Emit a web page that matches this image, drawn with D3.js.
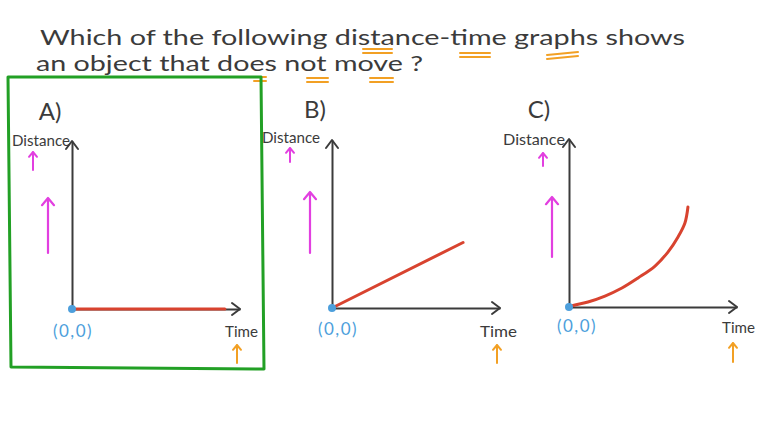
<!DOCTYPE html>
<html><head><meta charset="utf-8">
<script src="https://cdn.jsdelivr.net/npm/d3@7"></script>
<style>body{margin:0;background:#fff}svg{display:block}</style>
</head><body><svg id="c" width="760" height="427"></svg>
<script>
// ---- data ----
const titleLines = ["Which of the following distance-time graphs shows", "an object that does not move ?"];
const panelLabels = ["A)", "B)", "C)"];
const yAxisLabel = "Distance";
const xAxisLabel = "Time";
const originLabel = "(0,0)";
const xDomain = [0, 10];
const yDomain = [0, 10];
const seriesA = [[0, 0], [9.1, 0]];
const seriesB = [[0, 0], [7.8, 3.9]];
const seriesC = [[0, 0], [0.36, 0.12], [1.13, 0.3], [2.14, 0.65], [3.15, 1.13], [4.11, 1.73], [5.12, 2.44], [5.89, 3.27], [6.49, 4.17], [6.9, 5.0], [7.08, 5.95]];
const allSeries = [seriesA, seriesB, seriesC];

// ---- layout / style ----
const INK = "#3b3b3b", RED = "#d8432f", BLUE = "#4d9fdc", PINK = "#e23fe0", ORANGE = "#f2a024", GREEN = "#22a025";
const FONT = "Lato, 'Open Sans', sans-serif";
const layout = [
  {ox: 72, oy: 309, len: 168, lab: [50, 110], dist: [12, 146, 58], pinkS: [33, 152, 170], pinkL: [48, 198, 253], orig: [73, 330], time: [225, 337, 33], orange: [237, 345, 363]},
  {ox: 332, oy: 308, len: 168, lab: [315, 108], dist: [262, 143, 58], pinkS: [290, 148, 162], pinkL: [310, 192, 253], orig: [338, 328], time: [480, 337, 37], orange: [497, 345, 363]},
  {ox: 569, oy: 307, len: 168, lab: [539, 108], dist: [503, 145, 62], pinkS: [543, 153, 166], pinkL: [552, 197, 257], orig: [577, 325], time: [722, 333, 33], orange: [733, 343, 362]}
];

const svg = d3.select("#c");

// title
const titlePos = [[40, 45, 645], [36, 71, 387]];
titleLines.forEach((t, i) => {
  svg.append("text").attr("x", titlePos[i][0]).attr("y", titlePos[i][1])
    .attr("textLength", titlePos[i][2]).attr("lengthAdjust", "spacingAndGlyphs")
    .attr("font-family", FONT).attr("font-size", 21).attr("fill", INK).text(t);
});

// orange double underlines
const underlines = [[363, 392, 49, 49], [460, 490, 53, 53], [547, 578, 55, 52], [307, 328, 78, 78], [370, 393, 78, 78], [254, 266, 77, 77]];
underlines.forEach(u => {
  [0, 4].forEach(o => svg.append("line").attr("x1", u[0]).attr("x2", u[1]).attr("y1", u[2] + o).attr("y2", u[3] + o)
    .attr("stroke", ORANGE).attr("stroke-width", 2).attr("stroke-linecap", "round"));
});

// green box
svg.append("path").attr("d", "M8,77 L261,77 L264,369 L11,367 Z")
  .attr("fill", "none").attr("stroke", GREEN).attr("stroke-width", 3).attr("stroke-linejoin", "round");

function upArrow(x, y1, y2, color, w, head) {
  svg.append("path").attr("d", `M${x},${y2} L${x},${y1} M${x - head},${y1 + head * 1.2} L${x},${y1} L${x + head},${y1 + head * 1.2}`)
    .attr("fill", "none").attr("stroke", color).attr("stroke-width", w).attr("stroke-linecap", "round").attr("stroke-linejoin", "round");
}

layout.forEach((L, i) => {
  const x = d3.scaleLinear().domain(xDomain).range([L.ox, L.ox + L.len]);
  const y = d3.scaleLinear().domain(yDomain).range([L.oy, L.oy - L.len]);

  // axes (domain lines only)
  const gx = svg.append("g").attr("transform", `translate(0,${L.oy})`)
    .call(d3.axisBottom(x).tickValues([]).tickSizeOuter(0));
  const gy = svg.append("g").attr("transform", `translate(${L.ox},0)`)
    .call(d3.axisLeft(y).tickValues([]).tickSizeOuter(0));
  [gx, gy].forEach(g => g.select(".domain").attr("stroke", INK).attr("stroke-width", 2));
  // arrow heads
  const xe = x(xDomain[1]), ye = y(yDomain[1]);
  svg.append("path").attr("d", `M${xe - 8},${L.oy - 6} L${xe},${L.oy} L${xe - 8},${L.oy + 6}`)
    .attr("fill", "none").attr("stroke", INK).attr("stroke-width", 2).attr("stroke-linecap", "round").attr("stroke-linejoin", "round");
  svg.append("path").attr("d", `M${L.ox - 6},${ye + 8} L${L.ox},${ye} L${L.ox + 6},${ye + 8}`)
    .attr("fill", "none").attr("stroke", INK).attr("stroke-width", 2).attr("stroke-linecap", "round").attr("stroke-linejoin", "round");

  // series
  const line = d3.line().x(d => x(d[0])).y(d => y(d[1])).curve(i === 2 ? d3.curveCatmullRom : d3.curveLinear);
  svg.append("path").datum(allSeries[i]).attr("d", line)
    .attr("fill", "none").attr("stroke", RED).attr("stroke-width", 3).attr("stroke-linecap", "round");

  // origin dot
  svg.append("circle").attr("cx", x(0)).attr("cy", y(0)).attr("r", 4).attr("fill", BLUE);

  // labels
  svg.append("text").attr("x", L.lab[0]).attr("y", L.lab[1]).attr("text-anchor", "middle").attr("dominant-baseline", "central")
    .attr("font-family", FONT).attr("font-size", 24).attr("fill", INK).text(panelLabels[i]);
  svg.append("text").attr("x", L.dist[0]).attr("y", L.dist[1]).attr("textLength", L.dist[2]).attr("lengthAdjust", "spacingAndGlyphs")
    .attr("font-family", FONT).attr("font-size", 15).attr("fill", INK).text(yAxisLabel);
  svg.append("text").attr("x", L.time[0]).attr("y", L.time[1]).attr("textLength", L.time[2]).attr("lengthAdjust", "spacingAndGlyphs")
    .attr("font-family", FONT).attr("font-size", 16).attr("fill", INK).text(xAxisLabel);
  svg.append("text").attr("x", L.orig[0]).attr("y", L.orig[1]).attr("text-anchor", "middle").attr("dominant-baseline", "central")
    .attr("font-family", FONT).attr("font-size", 17).attr("letter-spacing", 1.5).attr("fill", BLUE).text(originLabel);

  upArrow(L.pinkS[0], L.pinkS[1], L.pinkS[2], PINK, 2, 4);
  upArrow(L.pinkL[0], L.pinkL[1], L.pinkL[2], PINK, 2.2, 6);
  upArrow(L.orange[0], L.orange[1], L.orange[2], ORANGE, 2, 4);
});
</script></body></html>
